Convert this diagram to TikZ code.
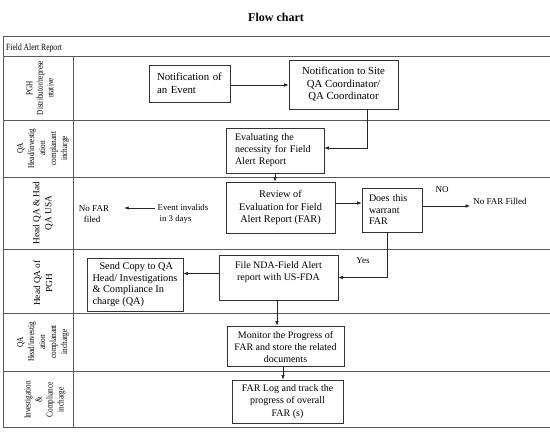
\documentclass[tikz,border=0pt]{standalone}
\usepackage{fontspec}
\setmainfont{Liberation Serif}
\usetikzlibrary{arrows.meta}
\newcommand\fsz[2]{\fontsize{#1}{#2}\selectfont}
% narrow lettering for the lane titles
\newcommand\cnd[1]{\scalebox{0.8}[1]{#1}}
\begin{document}
\begin{tikzpicture}[x=1pt,y=-1pt,
  lane/.style={draw=black!65, line width=0.6pt},
  box/.style={draw=black!80, line width=0.6pt, inner sep=0pt, align=center, font=\fsz{10}{12}},
  lbl/.style={rotate=90, align=center, inner sep=0pt},
  plain/.style={inner sep=0pt, align=left, font=\fsz{9}{11}},
  arr/.style={draw=black!85, line width=0.6pt, -{Latex[length=4.5pt,width=3.5pt]}},
]
\useasboundingbox (0,0) rectangle (550,442);

% title
\node[font=\bfseries\fsz{12}{14}] (title) at (276,17) {Flow chart};

% swimlane grid
\foreach \yy in {36,56,120,177,249,313,371,427}
  \draw[lane] (3,\yy) -- (550,\yy);
\draw[lane] (3,36) -- (3,427);
\draw[lane] (73,56) -- (73,427);

% lane titles
\node[inner sep=0pt, anchor=west, font=\fsz{9.5}{11}] (lfar) at (6,48) {\cnd{Field Alert Report}};
\node[lbl, font=\fsz{9}{10.5}] (l1) at (40,88) {\cnd{PGH}\\\cnd{Distributor/represe}\\\cnd{ntative}};
\node[lbl, font=\fsz{9}{11}] (l2) at (43,148.5) {\cnd{QA}\\\cnd{Head/investig}\\\cnd{ation}\\\cnd{complanant}\\\cnd{incharge}};
\node[lbl, font=\fsz{9.3}{12}] (l3) at (43,213) {Head QA \& Had\\QA USA};
\node[lbl, font=\fsz{9.3}{12}] (l4) at (43,283) {Head QA of\\PGH};
\node[lbl, font=\fsz{9}{11}] (l5) at (43,342) {\cnd{QA}\\\cnd{Head/investig}\\\cnd{ation}\\\cnd{complanant}\\\cnd{incharge}};
\node[lbl, font=\fsz{9}{11}] (l6) at (45,400) {\cnd{Investigation}\\\cnd{\&}\\\cnd{Compliance}\\\cnd{incharge}};

% process boxes
\node[box, align=left, font=\fsz{10.8}{13}, minimum width=81, minimum height=37,
      text width=65, inner xsep=8] (ev) at (189.5,83.5) {Notification of\\an Event};
\node[box, font=\fsz{10.8}{12.5}, minimum width=109, minimum height=49] (nts) at (343.5,84.5)
      {Notification to Site\\QA Coordinator/\\QA Coordinator};
\node[box, align=left, minimum width=98, minimum height=45, text width=80, inner xsep=9] (evl) at (275,150.5)
      {Evaluating the\\necessity for Field\\Alert Report};
\node[box, font=\fsz{10.3}{12.5}, minimum width=109, minimum height=51] (rev) at (280.5,207.5)
      {Review of\\Evaluation for Field\\Alert Report (FAR)};
\node[box, align=left, font=\fsz{10}{11.5}, minimum width=60, minimum height=44, text width=46, inner xsep=7] (dw) at (392,210)
      {Does this\\warrant\\FAR};
\node[box, minimum width=119, minimum height=45] (file) at (278.5,277.5)
      {File NDA-Field Alert\\report with US-FDA\\\mbox{}};
\node[box, align=left, font=\fsz{10.3}{11.4}, minimum width=96, minimum height=53] (snd) at (135,284.5)
      {\hspace*{7pt}Send Copy to QA\\Head/ Investigations\\\& Compliance In\\charge (QA)};
\node[box, minimum width=117, minimum height=40] (mon) at (285.5,346) {};
\begin{scope}
  \clip (mon.north west) rectangle ([yshift=3.5pt]mon.south east);
  \node[inner sep=0pt, align=center, font=\fsz{10}{12}] (montext) at (285.5,347.5)
      {Monitor the Progress of\\FAR and store the related\\documents};
\end{scope}
\node[box, font=\fsz{10}{12.5}, minimum width=111, minimum height=43] (log) at (287.5,401.5)
      {FAR Log and track the\\progress of overall\\FAR (s)};

% free-standing texts
\node[plain] (nofar) at (94,214) {No FAR\\\hspace*{5pt}filed};
\node[plain, font=\fsz{8.8}{11}] (evinv) at (183,213.5) {Event invalids\\\hspace*{2pt}in 3 days};
\node[inner sep=3pt, font=\fsz{9}{11}] (nff) at (500,201) {No FAR Filled};
\node[inner sep=0pt, font=\fsz{9}{11}] (no) at (442,190) {NO};
\node[inner sep=0pt, font=\fsz{9}{11}] (yes) at (363,261) {Yes};

% connectors
\draw[arr] ([yshift=-1.5pt]ev.east) -- ([yshift=-1.5pt]ev.east -| nts.west);
\draw[arr] ([xshift=23.5pt]nts.south) |- ([yshift=2.5pt]evl.east);
\draw[arr] (evl.south) -- (evl.south |- rev.north);
\draw[arr] ([yshift=4.5pt]rev.east) -- ([yshift=4.5pt]rev.east -| dw.west);
\draw[arr] ([yshift=4pt]dw.east) -- ([yshift=4pt]dw.east -| nff.west);
\draw[arr] ([xshift=-5pt]dw.south) |- (file.east);
\draw[arr] ([yshift=4pt]file.west) -- ([yshift=4pt]file.west -| snd.east);
\draw[arr] ([xshift=-1.5pt]file.south) -- ([xshift=-1.5pt]file.south |- mon.north);
\draw[arr] ([xshift=-2.5pt]mon.south) -- ([xshift=-2.5pt]mon.south |- log.north);
\draw[arr, shorten <=3pt, shorten >=15pt] ([yshift=5.5pt]evinv.west) -- ([yshift=5.5pt]evinv.west -| nofar.east);
\end{tikzpicture}
\end{document}
